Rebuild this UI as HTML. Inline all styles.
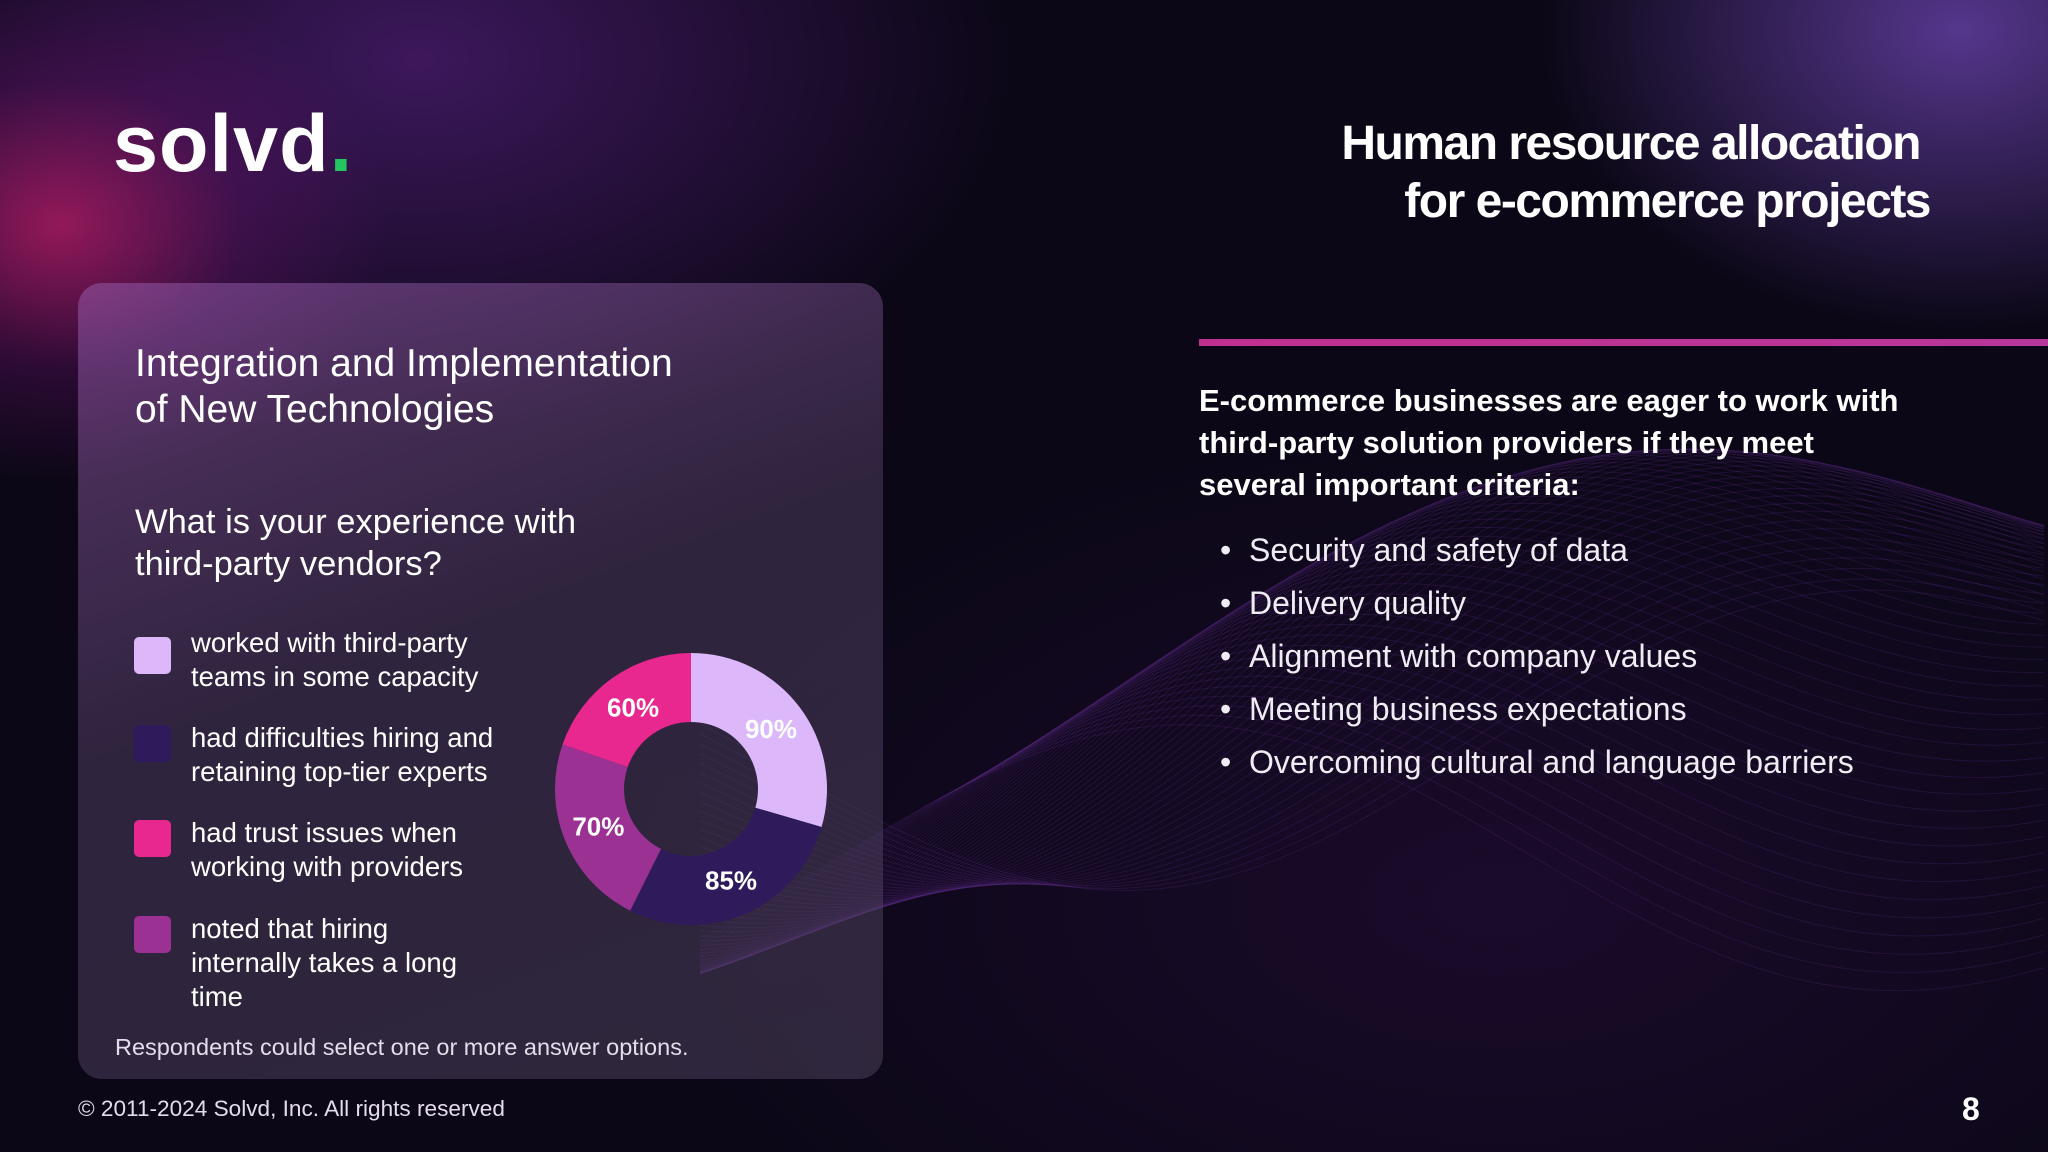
<!DOCTYPE html>
<html><head><meta charset="utf-8"><style>
html,body{margin:0;padding:0}
body{width:2048px;height:1152px;overflow:hidden;position:relative;font-family:"Liberation Sans",sans-serif;color:#fff;
background:
radial-gradient(ellipse 330px 260px at 60px 225px,rgba(200,30,110,0.7),rgba(120,20,120,0.3) 55%,transparent 100%),
radial-gradient(ellipse 600px 380px at 420px 60px,rgba(110,40,160,0.5),transparent 100%),
radial-gradient(ellipse 420px 300px at 1960px 30px,rgba(110,70,180,0.75),transparent 100%),
radial-gradient(ellipse 900px 500px at 1500px 900px,rgba(60,20,90,0.3),transparent 100%),
#0b0716;}
.abs{position:absolute}
</style></head><body>
<svg class="abs" width="2048" height="1152" style="left:0;top:0" id="waves"></svg>

<div class="abs" style="left:113px;top:98px;font-size:81px;font-weight:bold;letter-spacing:1px">solvd<span style="color:#22c55e">.</span></div>

<div class="abs" style="right:128px;top:116px;font-size:48px;font-weight:bold;letter-spacing:-1.5px;white-space:nowrap">Human resource allocation</div>
<div class="abs" style="right:118px;top:174px;font-size:48px;font-weight:bold;letter-spacing:-1.5px;white-space:nowrap">for e-commerce projects</div>

<div class="abs" style="left:78px;top:283px;width:805px;height:796px;border-radius:24px;background:linear-gradient(160deg,rgba(150,90,170,0.55),rgba(90,70,110,0.45) 45%,rgba(80,70,95,0.5));"></div>

<div class="abs" style="left:135px;top:341px;font-size:39px;line-height:46px">Integration and Implementation<br>of New Technologies</div>
<div class="abs" style="left:135px;top:501px;font-size:34.5px;line-height:42px">What is your experience with<br>third-party vendors?</div>

<div class="abs" style="left:134px;top:0;">
  <div class="abs" style="top:637px;left:0;width:400px">
    <div style="position:absolute;left:0;top:0;width:37px;height:37px;border-radius:5px;background:#dcb8fa"></div>
    <div style="position:absolute;left:57px;top:-11px;font-size:27.5px;line-height:34px;white-space:nowrap">worked with third-party<br>teams in some capacity</div></div>
  <div class="abs" style="top:725px;left:0;width:400px">
    <div style="position:absolute;left:0;top:0;width:37px;height:37px;border-radius:5px;background:#2f1a5c"></div>
    <div style="position:absolute;left:57px;top:-4px;font-size:27.5px;line-height:34px;white-space:nowrap">had difficulties hiring and<br>retaining top-tier experts</div></div>
  <div class="abs" style="top:820px;left:0;width:400px">
    <div style="position:absolute;left:0;top:0;width:37px;height:37px;border-radius:5px;background:#e8288e"></div>
    <div style="position:absolute;left:57px;top:-4px;font-size:27.5px;line-height:34px;white-space:nowrap">had trust issues when<br>working with providers</div></div>
  <div class="abs" style="top:916px;left:0;width:400px">
    <div style="position:absolute;left:0;top:0;width:37px;height:37px;border-radius:5px;background:#9c3194"></div>
    <div style="position:absolute;left:57px;top:-4px;font-size:27.5px;line-height:34px;white-space:nowrap">noted that hiring<br>internally takes a long<br>time</div></div>
</div>

<svg class="abs" id="donut" width="2048" height="1152" style="left:0;top:0"></svg>

<div class="abs" style="left:115px;top:1034px;font-size:23.5px;color:#e4dcea">Respondents could select one or more answer options.</div>

<div class="abs" style="left:1199px;top:339px;width:849px;height:7px;background:linear-gradient(90deg,#c2308f,#b8379a)"></div>

<div class="abs" style="left:1199px;top:380px;font-size:31px;font-weight:bold;line-height:42px">E-commerce businesses are eager to work with<br>third-party solution providers if they meet<br>several important criteria:</div>

<div class="abs" style="left:1220px;top:524px;font-size:32px;line-height:53px;color:#f0ecf4">
<div>•&nbsp;&nbsp;Security and safety of data</div>
<div>•&nbsp;&nbsp;Delivery quality</div>
<div>•&nbsp;&nbsp;Alignment with company values</div>
<div>•&nbsp;&nbsp;Meeting business expectations</div>
<div>•&nbsp;&nbsp;Overcoming cultural and language barriers</div>
</div>

<div class="abs" style="left:78px;top:1096px;font-size:22.6px;color:#e4dcea">© 2011-2024 Solvd, Inc. All rights reserved</div>
<div class="abs" style="left:1962px;top:1091px;font-size:32px;font-weight:bold">8</div>

<script>
const categories=['worked with third-party','had difficulties hiring','noted hiring internally takes long','had trust issues'];
const values=[90,85,70,60];
const labels=['90%','85%','70%','60%'];
const colors=['#dcb8fa','#2f1a5c','#9c3194','#e8288e'];
const NS='http://www.w3.org/2000/svg';
const svg=document.getElementById('donut');
const cx=691,cy=789,R=136,r=67;
const total=values.reduce((a,b)=>a+b,0);
function pt(a,rad){return [cx+rad*Math.sin(a),cy-rad*Math.cos(a)];}
let a0=0;
values.forEach((v,i)=>{
  const a1=a0+v/total*2*Math.PI;
  const [x1,y1]=pt(a0,R),[x2,y2]=pt(a1,R),[x3,y3]=pt(a1,r),[x4,y4]=pt(a0,r);
  const lg=(a1-a0)>Math.PI?1:0;
  const p=document.createElementNS(NS,'path');
  p.setAttribute('d',`M${x1},${y1}A${R},${R} 0 ${lg} 1 ${x2},${y2}L${x3},${y3}A${r},${r} 0 ${lg} 0 ${x4},${y4}Z`);
  p.setAttribute('fill',colors[i]);
  
  
  svg.appendChild(p);
  const am=(a0+a1)/2;const [lx,ly]=pt(am,100);
  const t=document.createElementNS(NS,'text');
  t.setAttribute('x',lx);t.setAttribute('y',ly+9);
  t.setAttribute('text-anchor','middle');t.setAttribute('font-size','26');t.setAttribute('font-weight','bold');
  t.setAttribute('fill','#fff');t.setAttribute('font-family','Liberation Sans, sans-serif');
  
  
  t.textContent=labels[i];
  svg.appendChild(t);
  a0=a1;
});
const w=document.getElementById('waves');
for(let k=0;k<60;k++){
  let d='';
  for(let x=700;x<=2048;x+=16){
    const ph=k*0.05;
    const y=820+ (k-30)*3.2 + 170*Math.sin((x-700)/260+ph)*Math.cos((x-1300)/900) - (x-700)*0.22*Math.sin(ph);
    d+=(x===700?'M':'L')+x+','+y.toFixed(1);
  }
  const p=document.createElementNS(NS,'path');
  p.setAttribute('d',d);p.setAttribute('fill','none');
  p.setAttribute('stroke','rgba(140,70,200,0.15)');p.setAttribute('stroke-width','1');
  
  
  w.appendChild(p);
}
</script>
</body></html>
